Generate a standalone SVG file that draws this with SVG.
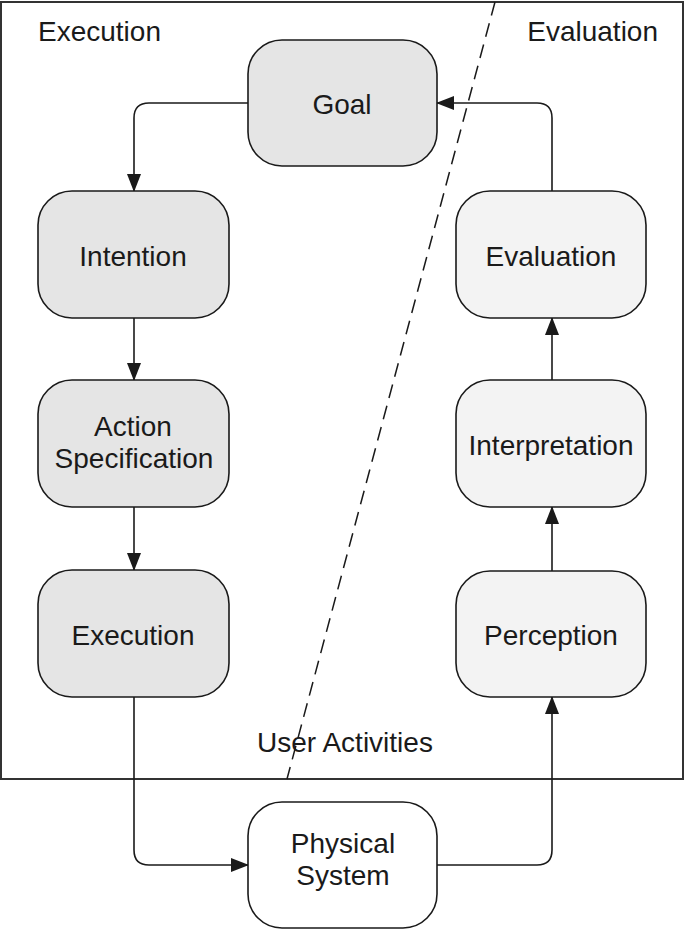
<svg xmlns="http://www.w3.org/2000/svg" width="685" height="929" viewBox="0 0 685 929">
<style>
  text { font-family: "Liberation Sans", Arial, sans-serif; font-size: 28px; fill: #1a1a1a; }
  .node { stroke: #1a1a1a; stroke-width: 1.6; }
  .exec { fill: #e5e5e5; }
  .eval { fill: #f3f3f3; }
  .phys { fill: #ffffff; }
  .conn { fill: none; stroke: #1a1a1a; stroke-width: 1.6; }
  .mid { text-anchor: middle; }
</style>
<defs>
  <marker id="arr" markerUnits="userSpaceOnUse" markerWidth="18" markerHeight="14" refX="17" refY="7" orient="auto">
    <path d="M0,0 L18,7 L0,14 Z" fill="#1a1a1a"/>
  </marker>
</defs>
<rect width="685" height="929" fill="#ffffff"/>
<g id="frame">
  <rect x="1" y="2" width="682" height="777" fill="none" stroke="#333333" stroke-width="2"/>
  <line x1="495" y1="2" x2="287" y2="779" stroke="#1a1a1a" stroke-width="1.5" stroke-dasharray="14 8"/>
  <text x="38" y="41">Execution</text>
  <text x="658" y="41" text-anchor="end">Evaluation</text>
  <text x="345" y="752" class="mid">User Activities</text>
</g>
<g id="connectors">
  <path class="conn" d="M248,103 H149 Q134,103 134,118 V191" marker-end="url(#arr)"/>
  <path class="conn" d="M134,318 V380" marker-end="url(#arr)"/>
  <path class="conn" d="M134,507 V570" marker-end="url(#arr)"/>
  <path class="conn" d="M134,697 V850 Q134,865 149,865 H248" marker-end="url(#arr)"/>
  <path class="conn" d="M437,865 H537 Q552,865 552,850 V697" marker-end="url(#arr)"/>
  <path class="conn" d="M552,571 V507" marker-end="url(#arr)"/>
  <path class="conn" d="M552,380 V318" marker-end="url(#arr)"/>
  <path class="conn" d="M552,191 V118 Q552,103 537,103 H437" marker-end="url(#arr)"/>
</g>
<g id="goal">
  <rect class="node exec" x="248" y="40" width="189" height="126" rx="34"/>
  <text x="342" y="114" class="mid">Goal</text>
</g>
<g id="intention">
  <rect class="node exec" x="38" y="191" width="191" height="127" rx="34"/>
  <text x="133" y="266" class="mid">Intention</text>
</g>
<g id="action-specification">
  <rect class="node exec" x="38" y="380" width="191" height="127" rx="34"/>
  <text x="133" y="436" class="mid">Action</text>
  <text x="134" y="468" class="mid">Specification</text>
</g>
<g id="execution">
  <rect class="node exec" x="38" y="570" width="191" height="127" rx="34"/>
  <text x="133" y="645" class="mid">Execution</text>
</g>
<g id="evaluation">
  <rect class="node eval" x="456" y="191" width="190" height="127" rx="34"/>
  <text x="551" y="266" class="mid">Evaluation</text>
</g>
<g id="interpretation">
  <rect class="node eval" x="456" y="380" width="190" height="127" rx="34"/>
  <text x="551" y="455" class="mid">Interpretation</text>
</g>
<g id="perception">
  <rect class="node eval" x="456" y="571" width="190" height="126" rx="34"/>
  <text x="551" y="645" class="mid">Perception</text>
</g>
<g id="physical-system">
  <rect class="node phys" x="248" y="802" width="189" height="126" rx="34"/>
  <text x="343" y="853" class="mid">Physical</text>
  <text x="343" y="885" class="mid">System</text>
</g>
</svg>
